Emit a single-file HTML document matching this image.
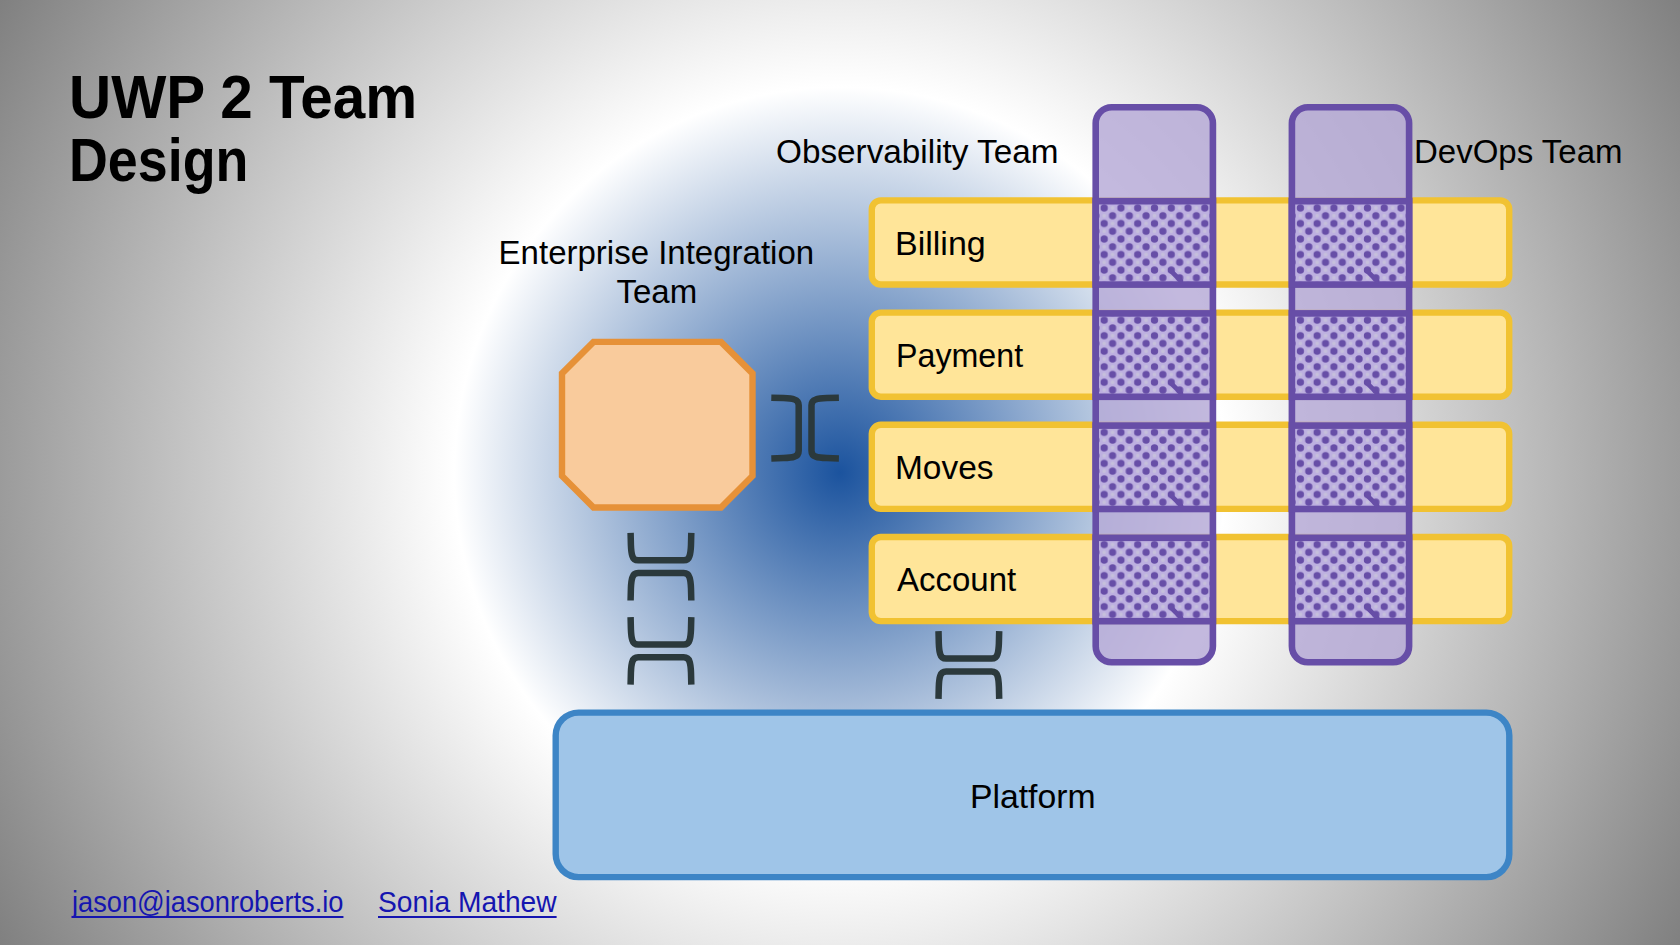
<!DOCTYPE html>
<html>
<head>
<meta charset="utf-8">
<title>UWP 2 Team Design</title>
<style>
html,body{margin:0;padding:0;}
body{width:1680px;height:945px;overflow:hidden;position:relative;font-family:"Liberation Sans",sans-serif;color:#000;
background:radial-gradient(circle 963.5px at 840px 472.5px,#1b539e 0%,#ffffff 40%,#808080 100%);}
svg{position:absolute;left:0;top:0;}
.t{position:absolute;white-space:nowrap;line-height:1;transform-origin:0 0;}
.title{font-weight:bold;font-size:61px;}
.lbl{font-size:33px;}
.lnk{font-size:30px;color:#1515b0;text-decoration:underline;text-decoration-thickness:1.7px;text-underline-offset:4.2px;text-decoration-skip-ink:none;}
</style>
</head>
<body>
<svg width="1680" height="945" viewBox="0 0 1680 945">
<defs>
<pattern id="dots" x="1095.8" y="204.1" width="16.77" height="15.52" patternUnits="userSpaceOnUse">
<rect width="16.77" height="15.52" fill="#bdb0e0"/>
<g fill="#c6c0dc">
<circle cx="0" cy="3.9" r="1.9"/><circle cx="16.77" cy="3.9" r="1.9"/><circle cx="8.385" cy="11.66" r="1.9"/>
</g>
<g fill="#674ea7">
<circle cx="8.385" cy="3.9" r="3.65"/>
<circle cx="0" cy="11.66" r="3.65"/>
<circle cx="16.77" cy="11.66" r="3.65"/>
</g>
</pattern>
<g id="ubr" fill="none" stroke="#2b393c" stroke-width="6.5" stroke-linecap="butt" stroke-linejoin="round">
<path d="M3.4 0 L3.7 12 Q4 20 5.2 23.2 Q6.4 27.4 11 27.4 L56.5 27.4 Q61.1 27.4 62.3 23.2 Q63.5 20 63.8 12 L64.1 0"/>
<path d="M3.4 67.6 L3.7 55.6 Q4 47.6 5.2 44.4 Q6.4 40.2 11 40.2 L56.5 40.2 Q61.1 40.2 62.3 44.4 Q63.5 47.6 63.8 55.6 L64.1 67.6"/>
</g>
<g id="drect">
<rect x="1095.7" y="201.2" width="117.2" height="83.4" fill="url(#dots)" stroke="#674ea7" stroke-width="6.6"/>
<path d="M1170.4 270.4 L1181 281" stroke="#674ea7" stroke-width="4.6" stroke-linecap="round" fill="none"/>
</g>
</defs>

<!-- platform -->
<rect x="555.7" y="712.6" width="953.6" height="164.5" rx="23" ry="23" fill="#9fc5e8" stroke="#3d85c6" stroke-width="6.4"/>

<!-- yellow bars -->
<g fill="#ffe599" stroke="#f1c232" stroke-width="6.4">
<rect x="871.8" y="200.4" width="637.4" height="84.1" rx="9" ry="9"/>
<rect x="871.8" y="312.6" width="637.4" height="84.1" rx="9" ry="9"/>
<rect x="871.8" y="424.8" width="637.4" height="84.1" rx="9" ry="9"/>
<rect x="871.8" y="537.0" width="637.4" height="84.1" rx="9" ry="9"/>
</g>

<!-- purple columns -->
<g fill="#b4a7d6" fill-opacity="0.8" stroke="#674ea7" stroke-width="6.6">
<rect x="1095.7" y="107.3" width="117.2" height="555" rx="16" ry="16"/>
<rect x="1291.9" y="107.3" width="117.2" height="555" rx="16" ry="16"/>
</g>

<!-- dotted overlaps -->
<use href="#drect"/>
<use href="#drect" y="112.2"/>
<use href="#drect" y="224.4"/>
<use href="#drect" y="336.6"/>
<use href="#drect" x="196.2"/>
<use href="#drect" x="196.2" y="112.2"/>
<use href="#drect" x="196.2" y="224.4"/>
<use href="#drect" x="196.2" y="336.6"/>

<!-- octagon -->
<polygon points="593.5,341.9 721,341.9 752.5,373.4 752.5,476 721,507.5 593.5,507.5 562,476 562,373.4" fill="#f9cb9c" stroke="#e69138" stroke-width="6.4" stroke-linejoin="miter"/>

<!-- interaction icons -->
<use href="#ubr" transform="translate(627.2 532.9)"/>
<use href="#ubr" transform="translate(627.2 617.1)"/>
<use href="#ubr" transform="translate(935.1 631.2)"/>
<use href="#ubr" transform="translate(771.3 461.8) rotate(-90)"/>
</svg>

<div class="t title" id="t1" style="left:69px;top:66.8px;transform:scaleX(0.957);">UWP 2 Team</div>
<div class="t title" id="t2" style="left:69.4px;top:130.4px;transform:scaleX(0.882);">Design</div>

<div class="t lbl" id="l1" style="left:776px;top:134.6px;transform:scaleX(1.009);">Observability Team</div>
<div class="t lbl" id="l2" style="left:1414px;top:134.5px;">DevOps Team</div>
<div class="t lbl" id="l3" style="left:498.6px;top:235.6px;">Enterprise Integration</div>
<div class="t lbl" id="l4" style="left:616.5px;top:275px;">Team</div>
<div class="t lbl" id="b1" style="left:895px;top:227.1px;transform:scaleX(1.03);">Billing</div>
<div class="t lbl" id="b2" style="left:895.7px;top:338.7px;transform:scaleX(0.976);">Payment</div>
<div class="t lbl" id="b3" style="left:895px;top:450.8px;transform:scaleX(1.014);">Moves</div>
<div class="t lbl" id="b4" style="left:897px;top:563px;">Account</div>
<div class="t lbl" id="p1" style="left:969.7px;top:779.5px;transform:scaleX(1.022);">Platform</div>

<div class="t lnk" id="k1" style="left:71.6px;top:886.7px;transform:scaleX(0.908);">jason@jasonroberts.io</div>
<div class="t lnk" id="k2" style="left:377.7px;top:886.7px;transform:scaleX(0.9395);">Sonia Mathew</div>
</body>
</html>
